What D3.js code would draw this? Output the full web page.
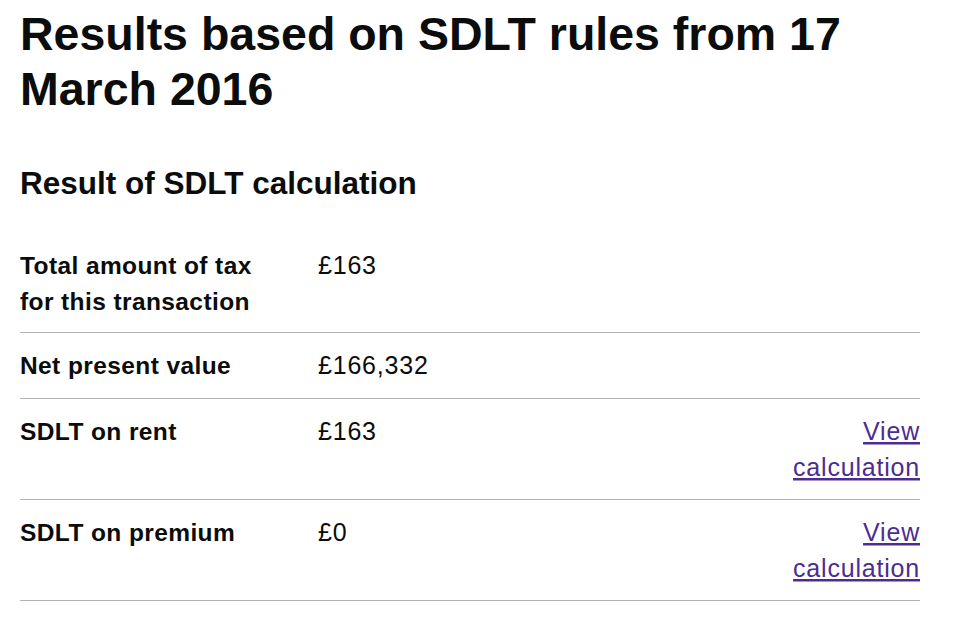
<!DOCTYPE html>
<html><head><meta charset="utf-8">
<script src="https://cdn.jsdelivr.net/npm/d3@7"></script>
<style>body{margin:0;background:#fff}</style></head>
<body><svg id="c" width="975" height="644"></svg>
<script>
const titleLines = ["Results based on SDLT rules from 17", "March 2016"];
const subheading = "Result of SDLT calculation";
const rowLabels = [["Total amount of tax", "for this transaction"], ["Net present value"], ["SDLT on rent"], ["SDLT on premium"]];
const rowValues = ["£163", "£166,332", "£163", "£0"];
const rowLinks = [null, null, ["View", "calculation"], ["View", "calculation"]];
const rowTops = [232, 332, 398, 499];
const rowBottoms = [332, 398, 499, 600];

const svg = d3.select("#c");
const font = "'Liberation Sans', Arial, sans-serif";
svg.selectAll("text.t").data(titleLines).join("text")
  .attr("x", 20).attr("y", (d,i)=>50+i*55)
  .attr("font-family", font).attr("font-weight", 700).attr("font-size", 46.5)
  .attr("fill", "#0b0c0c").text(d=>d);
svg.append("text").attr("x", 20).attr("y", 194).attr("font-family", font)
  .attr("font-weight", 700).attr("font-size", 31.5).attr("fill", "#0b0c0c").text(subheading);

const rows = svg.selectAll("g.row").data(rowLabels.map((l,i)=>({l, v: rowValues[i], k: rowLinks[i], top: rowTops[i], bot: rowBottoms[i]})))
  .join("g").attr("class","row");
rows.each(function(d){
  const g = d3.select(this);
  d.l.forEach((s,j)=>g.append("text").attr("x",20).attr("y",d.top+42+j*36)
    .attr("font-family",font).attr("font-weight",700).attr("font-size",24.5).attr("letter-spacing",0.4).attr("fill","#0b0c0c").text(s));
  g.append("text").attr("x",318).attr("y",d.top+42).attr("font-family",font)
    .attr("font-size",25).attr("letter-spacing",0.8).attr("fill","#0b0c0c").text(d.v);
  if (d.k) d.k.forEach((s,j)=>g.append("text").attr("x",920).attr("y",d.top+42+j*36)
    .attr("text-anchor","end").attr("font-family",font).attr("font-size",25).attr("letter-spacing",0.8)
    .attr("fill","#4c2c92").attr("text-decoration","underline").text(s));
  g.append("line").attr("x1",20).attr("x2",920).attr("y1",d.bot+0.5).attr("y2",d.bot+0.5)
    .attr("stroke","#b1b4b6").attr("stroke-width",1);
});
</script></body></html>
